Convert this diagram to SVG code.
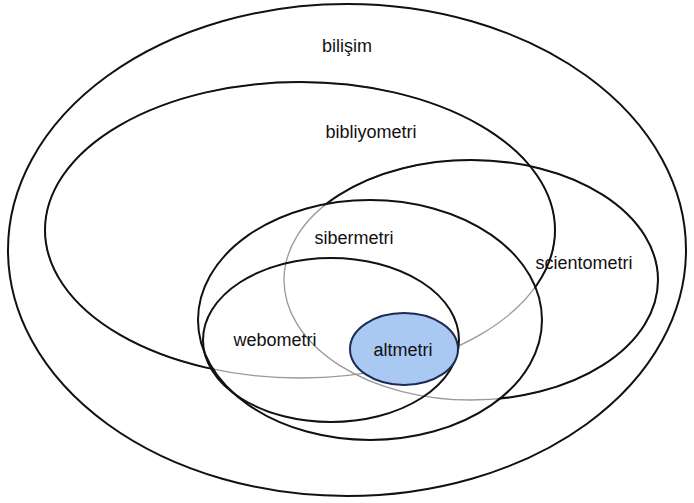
<svg xmlns="http://www.w3.org/2000/svg" width="694" height="503" viewBox="0 0 694 503">
<style>
.e{fill:none;stroke:#111;stroke-width:2}
.g{fill:none;stroke:#999;stroke-width:1.3}
text{font-family:"Liberation Sans",Arial,sans-serif;font-size:18px;fill:#111;text-anchor:middle}
</style>
<defs>
<mask id="m"><rect width="694" height="503" fill="#fff"/><ellipse cx="370" cy="320" rx="171" ry="119" fill="#000"/></mask>
</defs>
<rect width="694" height="503" fill="#fff"/>
<g id="bilisim"><ellipse class="e" cx="347" cy="250" rx="339" ry="246"/><text x="347" y="52">bilişim</text></g>
<g id="bibliyometri"><ellipse class="g" cx="300" cy="230" rx="255" ry="148"/><ellipse class="e" cx="300" cy="230" rx="255" ry="148" mask="url(#m)"/><text x="371" y="138">bibliyometri</text></g>
<g id="scientometri"><ellipse class="g" cx="471" cy="280" rx="187" ry="120"/><ellipse class="e" cx="471" cy="280" rx="187" ry="120" mask="url(#m)"/><text x="584" y="269">scientometri</text></g>
<g id="sibermetri"><ellipse class="e" cx="370" cy="320" rx="172" ry="120"/><text x="354" y="244">sibermetri</text></g>
<g id="webometri"><ellipse class="e" cx="331" cy="340" rx="128" ry="82"/><text x="275" y="346">webometri</text></g>
<g id="altmetri"><ellipse cx="404" cy="349" rx="54" ry="36" fill="#a9c8f2" stroke="#1c2a55" stroke-width="2"/><text x="403" y="356">altmetri</text></g>
<g id="connectors"/>
</svg>
